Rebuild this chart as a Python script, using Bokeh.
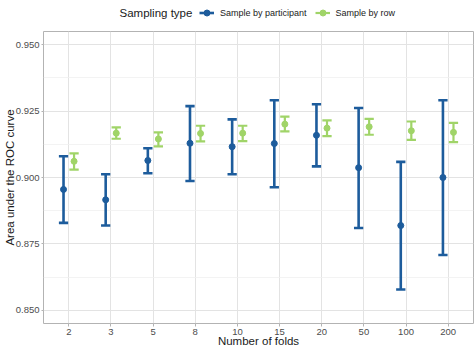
import numpy as np
from bokeh.plotting import figure
from bokeh.layouts import column
from bokeh.models import (ColumnDataSource, FixedTicker, Legend, LegendItem, Range1d,
                          CustomJSTickFormatter, Label)
from bokeh.embed import file_html
from bokeh.resources import INLINE

folds = ["2", "3", "5", "8", "10", "15", "20", "50", "100", "200"]

part_mean = [0.8955, 0.8916, 0.9064, 0.9129, 0.9116, 0.9128, 0.9159, 0.9037, 0.8819, 0.9000]
part_low = [0.8829, 0.8819, 0.9016, 0.8987, 0.9012, 0.8963, 0.9042, 0.8810, 0.8578, 0.8708]
part_high = [0.9080, 0.9012, 0.9110, 0.9269, 0.9219, 0.9291, 0.9276, 0.9262, 0.9059, 0.9291]

row_mean = [0.9061, 0.9167, 0.9145, 0.9166, 0.9167, 0.9201, 0.9186, 0.9191, 0.9176, 0.9170]
row_low = [0.9030, 0.9146, 0.9117, 0.9136, 0.9137, 0.9174, 0.9156, 0.9161, 0.9142, 0.9133]
row_high = [0.9091, 0.9189, 0.9170, 0.9195, 0.9195, 0.9229, 0.9215, 0.9221, 0.9211, 0.9206]

y_ticks = [0.850, 0.875, 0.900, 0.925, 0.950]

legend_title = "Sampling type"
series_names = ["Sample by participant", "Sample by row"]

BLUE = "#1d5c9c"
GREEN = "#a0d468"
FONT = "Liberation Sans"

# ---------------- main plot ----------------
p = figure(width=474, height=319, output_backend="svg", toolbar_location=None,
           x_range=Range1d(-0.6, len(folds) - 1 + 0.6), y_range=Range1d(0.845, 0.955),
           min_border_left=42, min_border_right=1, min_border_top=1, min_border_bottom=26)

p.background_fill_color = "white"
p.border_fill_color = "white"
p.outline_line_color = "#b3b3b3"
p.outline_line_width = 1

idx = np.arange(len(folds))
dodge = 0.125

def add_series(fig, xs, mean, low, high, color, lw, cap_half, size):
    src = ColumnDataSource(dict(x=xs, m=mean, lo=low, hi=high,
                                xl=xs - cap_half, xr=xs + cap_half))
    fig.segment(x0="x", y0="lo", x1="x", y1="hi", source=src, line_color=color, line_width=lw)
    fig.segment(x0="xl", y0="lo", x1="xr", y1="lo", source=src, line_color=color, line_width=lw)
    fig.segment(x0="xl", y0="hi", x1="xr", y1="hi", source=src, line_color=color, line_width=lw)
    fig.scatter(x="x", y="m", source=src, size=size, fill_color=color, line_color=color)
    return src

src_part = add_series(p, idx - dodge, np.array(part_mean), np.array(part_low),
                      np.array(part_high), BLUE, 2.6, 0.11, 6)
src_row = add_series(p, idx + dodge, np.array(row_mean), np.array(row_low),
                     np.array(row_high), GREEN, 2.2, 0.11, 6)

p.xaxis.ticker = FixedTicker(ticks=list(idx))
p.xaxis.major_label_overrides = {int(i): f for i, f in zip(idx, folds)}
p.yaxis.ticker = FixedTicker(ticks=y_ticks,
                             minor_ticks=[0.8375, 0.8625, 0.8875, 0.9125, 0.9375, 0.9625])
p.yaxis.formatter = CustomJSTickFormatter(code="return tick.toFixed(3);")

for ax in (p.xaxis, p.yaxis):
    ax.axis_line_color = None
    ax.major_tick_line_color = "#b3b3b3"
    ax.major_tick_out = 3
    ax.major_tick_in = 0
    ax.minor_tick_line_color = None
    ax.major_label_text_font = FONT
    ax.major_label_text_font_size = "9.5px"
    ax.major_label_text_color = "#4d4d4d"
    ax.axis_label_text_font = FONT
    ax.axis_label_text_font_size = "11.5px"
    ax.axis_label_text_font_style = "normal"
    ax.axis_label_text_color = "#1a1a1a"

p.xaxis.major_label_standoff = 2
p.xaxis.axis_label_standoff = -3
p.yaxis.major_tick_out = 2
p.yaxis.major_label_standoff = 0
p.yaxis.axis_label_standoff = -3

p.xaxis.axis_label = "Number of folds"
p.yaxis.axis_label = "Area under the ROC curve"

p.xgrid.grid_line_color = "#e3e3e3"
p.xgrid.grid_line_width = 1
p.ygrid.grid_line_color = "#e3e3e3"
p.ygrid.grid_line_width = 1
p.ygrid.minor_grid_line_color = "#f0f0f0"
p.ygrid.minor_grid_line_width = 0.8

# ---------------- legend header ----------------
# header strip: its ranges exclude the data, so only the legend keys show
h = figure(width=474, height=30, output_backend="svg", toolbar_location=None,
           x_range=Range1d(-100, -99), y_range=Range1d(-100, -99),
           x_axis_type=None, y_axis_type=None,
           min_border_left=0, min_border_right=0, min_border_top=0, min_border_bottom=0)
h.outline_line_color = None
h.grid.visible = False
h.background_fill_color = "white"
h.border_fill_color = "white"

items = []
for name, src, color, lw in zip(series_names, [src_part, src_row], [BLUE, GREEN], [2.6, 2.2]):
    seg = h.segment(x0="x", y0="lo", x1="x", y1="hi", source=src, line_color=color, line_width=lw)
    sc = h.scatter(x="x", y="m", source=src, fill_color=color, line_color=color)
    items.append(LegendItem(label=name, renderers=[seg, sc]))

legend = Legend(items=items, orientation="horizontal", location=(156, 10),
                label_text_font=FONT, label_text_font_size="9px", label_text_color="#1a1a1a",
                glyph_width=15, glyph_height=15, label_standoff=6, spacing=8,
                padding=0, margin=0, border_line_color=None, background_fill_alpha=0)
h.add_layout(legend, "center")

h.add_layout(Label(text=legend_title, x=76, y=18, x_units="screen", y_units="screen",
                   text_font=FONT, text_font_size="11.5px", text_color="#1a1a1a",
                   text_baseline="middle"))

layout = column(h, p, spacing=0)
open("out.html", "w").write(file_html(layout, INLINE))
